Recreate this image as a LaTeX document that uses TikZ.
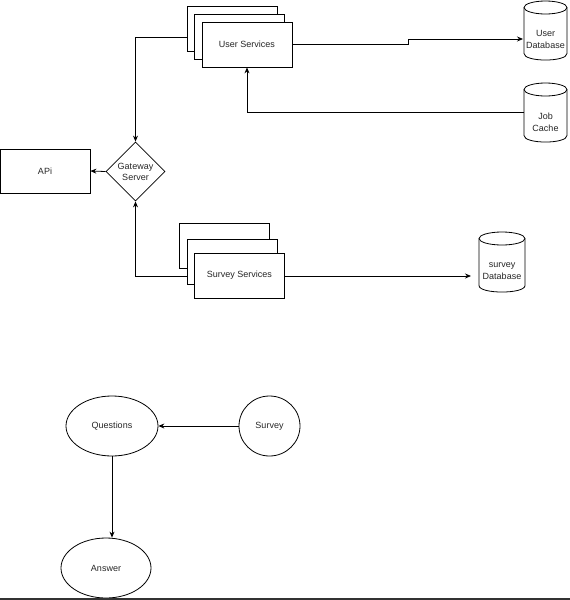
\documentclass[tikz,border=0pt]{standalone}
\usepackage{fontspec}
\setmainfont{Liberation Sans}
\usetikzlibrary{arrows.meta,shapes.geometric}
\newcommand\dbcyl[4]{% L R T B
  \pgfmathsetmacro\cx{(#1+#2)/2}\pgfmathsetmacro\rx{(#2-#1)/2}
  \draw[fill=white] (#1,#3+6.5) -- (#1,#4-6.5) .. controls (#1,#4+2.2) and (#2,#4+2.2) .. (#2,#4-6.5) -- (#2,#3+6.5);
  \draw (\cx,#3+6.5) ellipse [x radius=\rx, y radius=6.5];}
\begin{document}
\begin{tikzpicture}[x=1pt,y=-1pt,line width=0.8pt,
  font=\fontsize{9}{11}\selectfont,
  every node/.style={text=black!85},
  box/.style={draw,rectangle,fill=white,minimum width=90pt,minimum height=45pt,inner sep=0pt},
  lbl/.style={align=center,inner sep=0pt,font=\fontsize{9}{12}\selectfont},
  arr/.style={-{Stealth[length=6pt,width=5pt]}},
  ell/.style={draw,ellipse,inner sep=0pt}]
\useasboundingbox (0,0) rectangle (570,600);
% user services stack
\node[box] (usb) at (232,29) {};
\node[box] (usm) at (239.5,36.5) {};
\node[box] (usf) at (247,44.5) {User Services};
% survey services stack
\node[box] (ssb) at (224.5,246) {};
\node[box] (ssm) at (232,261.5) {};
\node[box] (ssf) at (239.5,275.5) {Survey Services};
% API and gateway
\node[draw,rectangle,minimum width=90pt,minimum height=44pt,inner sep=0pt] (api) at (45,171) {APi};
\node[draw,diamond,aspect=1,minimum width=59pt,minimum height=59pt,inner sep=0pt,align=center,font=\fontsize{9}{11}\selectfont] (gw) at (135.5,171.5) {Gateway\\Server};
% databases
\dbcyl{524}{567}{1}{60}
\node[lbl] (udb) at (545.5,39) {User\\Database};
\dbcyl{524}{567}{83}{142}
\node[lbl] (jc) at (545.5,122.5) {Job\\Cache};
\dbcyl{479}{525}{232}{292}
\node[lbl] (sdb) at (502,271.5) {survey\\Database};
\coordinate (udbw) at (523,39);
\coordinate (jcw) at (524,112);
\coordinate (sdbw) at (471,276);
% connectors top
\draw[arr] ([yshift=-8pt]usb.west) -| (gw.north);
\draw[arr] (gw.west) -- (api.east);
\draw[arr] ([yshift=-14.5pt]ssm.west) -| (gw.south);
\draw[arr] (usf.east) -- (408,44.5) -- (408,39) -- (udbw);
\draw[arr] (jcw) -| (usf.south);
\draw[arr] ([yshift=-0.5pt]ssf.east) -- (sdbw);
% lower graph
\node[ell,minimum width=92pt,minimum height=60pt] (q) at (112,426) {Questions};
\node[ell,minimum width=61pt,minimum height=60pt] (s) at (269.5,426) {Survey};
\node[ell,minimum width=90pt,minimum height=60pt] (a) at (106,568) {Answer};
\draw[arr] (s.west) -- (q.east);
\draw[arr] (q.south) -- (q.south |- a.north);
% bottom edge
\draw[line width=1.6pt,black!80] (0,599.2) -- (570,599.2);
\end{tikzpicture}
\end{document}
